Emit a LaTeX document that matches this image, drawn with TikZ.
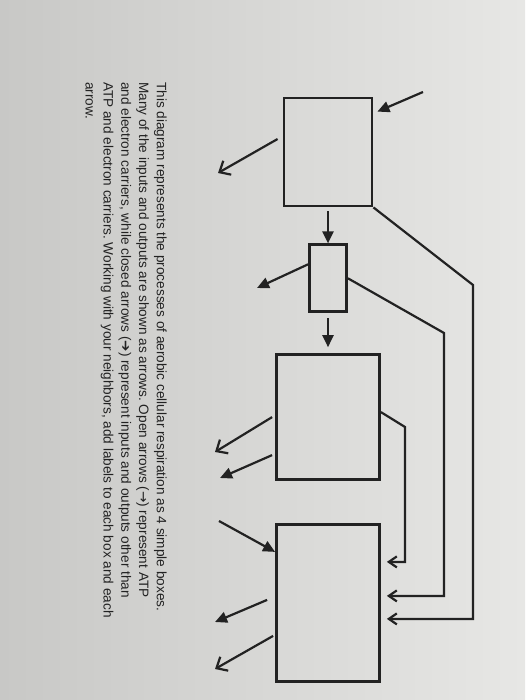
\documentclass[tikz,border=0pt]{standalone}
\usepackage{fontspec}
\setmainfont{Liberation Sans}
\newfontfamily\dingfont{DejaVu Sans}
\usepackage{tikz}
\usetikzlibrary{calc,positioning,arrows.meta}
\definecolor{ink}{RGB}{34,34,34}
\definecolor{paperL}{RGB}{200,200,198}
\definecolor{paperR}{RGB}{231,231,229}
\tikzstyle{stagebox} = [rectangle, draw=ink, line width=2.8pt, inner sep=0pt]
\tikzstyle{closedArrow} = [line width=2.2pt, draw=ink, -{Triangle[length=12pt,width=11pt]}]
\tikzstyle{openArrow} = [line width=2.2pt, draw=ink, -{Straight Barb[length=9pt,width=16pt]}]
\tikzstyle{returnArrow} = [line width=2.2pt, draw=ink, -{Straight Barb[length=8pt,width=11pt]}]
\tikzstyle{caption} = [inner sep=0pt, align=left, text=ink,
    font=\fontsize{13.6}{17.8}\selectfont\frenchspacing]

\begin{document}
\begin{tikzpicture}[x=1pt, y=-1pt]
    \shade [left color=paperL, right color=paperR] (0,0) rectangle (525,700);
    \useasboundingbox (0,0) rectangle (525,700);

    % the four stages
    \node (glycolysis) [stagebox, minimum width=88pt, minimum height=108pt] at (328,152) {};
    \node (pyruvateOx) [stagebox, minimum width=37pt, minimum height=67pt, below=36pt of glycolysis] {};
    \node (krebs) [stagebox, minimum width=103pt, minimum height=125pt, below=40pt of pyruvateOx] {};
    \node (etc) [stagebox, minimum width=103pt, minimum height=157pt, below=42pt of krebs] {};

    % free ends of the inputs and outputs
    \coordinate (glucoseIn) at (423,92);
    \coordinate (atpGly) at (218,173);
    \coordinate (co2Pyr) at (257,288);
    \coordinate (nadhKrebs) at (215,452);
    \coordinate (co2Krebs) at (220,478);
    \coordinate (oxygenIn) at (219,521);
    \coordinate (waterOut) at (215,622);
    \coordinate (atpEtc) at (215,669);
    \coordinate (bendGly) at (473,285);
    \coordinate (bendPyr) at (444,333);
    \coordinate (bendKrebs) at (405,427);

    \draw [closedArrow] (glucoseIn) -- ([xshift=4pt,yshift=-15pt]glycolysis.north east);
    \draw [openArrow] ([xshift=-5pt,yshift=13pt]glycolysis.west) -- (atpGly);
    \draw [closedArrow, shorten <=4pt] (glycolysis.south) -- (pyruvateOx.north);
    \draw [closedArrow] ([yshift=14pt]pyruvateOx.west) -- (co2Pyr);
    \draw [closedArrow, shorten <=5pt, shorten >=6pt] (pyruvateOx.south) -- (krebs.north);
    \draw [openArrow] ([xshift=-3pt]krebs.west) -- (nadhKrebs);
    \draw [closedArrow] ([xshift=-3pt,yshift=-38pt]krebs.west) -- (co2Krebs);
    \draw [closedArrow] (oxygenIn) -- ([yshift=51pt]etc.west);
    \draw [closedArrow] ([xshift=-8pt,yshift=3pt]etc.west) -- (waterOut);
    \draw [openArrow] ([xshift=-2pt,yshift=-33pt]etc.west) -- (atpEtc);

    % carriers going back to the last stage
    \draw [returnArrow, shorten >=6pt] (glycolysis.south east) -- (bendGly) |- ([yshift=-16pt]etc.east);
    \draw [returnArrow, shorten >=6pt] (pyruvateOx.east) -- (bendPyr) |- ([yshift=7pt]etc.east);
    \draw [returnArrow, shorten >=6pt] ([yshift=5pt]krebs.east) -- (bendKrebs) |- ([yshift=41pt]etc.east);

    \node (note) [caption, rotate=-90, anchor=north west] at (167,82) {This diagram represents the processes of aerobic cellular respiration as 4 simple boxes.\\
        Many of the inputs and outputs are shown as arrows. Open arrows ({\dingfont →}) represent ATP\\
        and electron carriers, while closed arrows ({\dingfont ➔}) represent inputs and outputs other than\\
        ATP and electron carriers. Working with your neighbors, add labels to each box and each\\
        arrow.};
\end{tikzpicture}
\end{document}
